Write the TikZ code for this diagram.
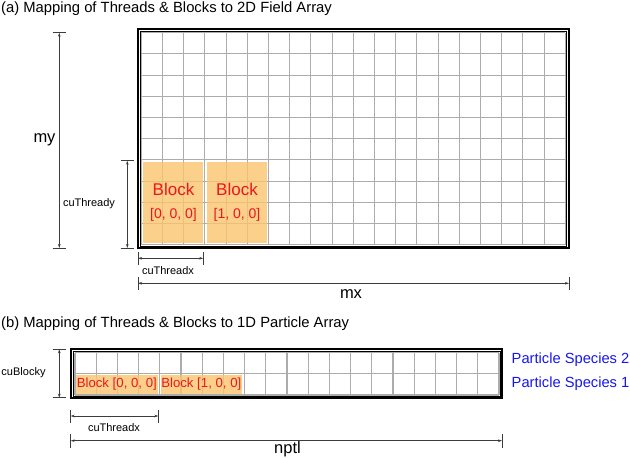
\documentclass[tikz,border=0pt]{standalone}
\usepackage{fontspec}
\setmainfont{Liberation Sans}
\usetikzlibrary{arrows.meta}
\definecolor{blkfill}{RGB}{250,196,110}
\definecolor{gridgray}{RGB}{172,172,172}
\definecolor{blkred}{RGB}{238,22,30}
\definecolor{specblue}{RGB}{22,22,238}
\definecolor{dimgray}{RGB}{60,60,60}
\begin{document}
\begin{tikzpicture}[x=1pt,y=-1pt,
  gridline/.style={draw=gridgray,line width=1.1pt},
  outerframe/.style={draw=black,line width=2pt},
  innerframe/.style={draw=black,line width=0.7pt},
  blockfill/.style={fill=blkfill,fill opacity=0.8,draw=none},
  dimline/.style={draw=dimgray,line width=0.7pt,{Stealth[length=4pt,width=2.6pt]}-{Stealth[length=4pt,width=2.6pt]}},
  dimtick/.style={draw=dimgray,line width=0.7pt},
  titletxt/.style={anchor=west,inner sep=0pt,font=\fontsize{14.8}{17}\selectfont},
  bigtxt/.style={inner sep=0pt,font=\fontsize{16.5}{19}\selectfont},
  smalltxt/.style={inner sep=0pt,font=\fontsize{11}{13}\selectfont},
  blocktxt/.style={inner sep=0pt,text=blkred,font=\fontsize{17}{20}\selectfont},
  idxtxt/.style={inner sep=0pt,text=blkred,font=\fontsize{14}{17}\selectfont},
  blockbtxt/.style={inner sep=0pt,text=blkred,font=\fontsize{13.2}{16}\selectfont},
  spectxt/.style={anchor=west,inner sep=0pt,text=specblue,font=\fontsize{14.7}{17}\selectfont}
]
\useasboundingbox (0,0) rectangle (630,458);

% ---------- (a) ----------
\node[titletxt] (ta) at (1,9) {(a) Mapping of Threads \& Blocks to 2D Field Array};

\foreach \i in {0,...,20}
  \draw[gridline] ({141.3+\i*21.2},32.7) -- ({141.3+\i*21.2},244.7);
\foreach \j in {0,...,10}
  \draw[gridline] (141.3,{32.7+\j*21.2}) -- (565.3,{32.7+\j*21.2});

\fill[blockfill] (143.3,161.7) rectangle (203.3,242.7);
\fill[blockfill] (206.7,161.7) rectangle (267.3,242.7);

\draw[innerframe] (140.4,31.2) rectangle (566.6,246.2);
\draw[outerframe] (138,29) rectangle (569,248);

\node[blocktxt] (b0a) at (173.5,189) {Block};
\node[idxtxt] (b0b) at (173.5,215) {[0, 0, 0]};
\node[blocktxt] (b1a) at (237,189) {Block};
\node[idxtxt] (b1b) at (237,215) {[1, 0, 0]};

% my
\coordinate (myT) at (59.3,32.7);
\coordinate (myB) at (59.3,248);
\draw[dimtick] (52.7,32.7) -- (66,32.7);
\draw[dimtick] (52.7,248) -- (66,248);
\draw[dimline] (myT) -- (myB);
\node[bigtxt] (my) at (44.5,140) {my};

% cuThready
\coordinate (ctyT) at (127.3,160.7);
\coordinate (ctyB) at (127.3,248);
\draw[dimtick] (120.5,160.7) -- (134,160.7);
\draw[dimtick] (120.5,248) -- (134,248);
\draw[dimline] (ctyT) -- (ctyB);
\node[smalltxt] (cty) at (89,204) {cuThready};

% cuThreadx (a)
\coordinate (ctxaL) at (138,258.3);
\coordinate (ctxaR) at (203.3,258.3);
\draw[dimtick] (138,252) -- (138,265);
\draw[dimtick] (203.3,252) -- (203.3,265);
\draw[dimline] (ctxaL) -- (ctxaR);
\node[smalltxt] (ctxa) at (168,270.5) {cuThreadx};

% mx
\coordinate (mxL) at (138,283.3);
\coordinate (mxR) at (569,283.3);
\draw[dimtick] (138,277) -- (138,290);
\draw[dimtick] (569,277) -- (569,290);
\draw[dimline] (mxL) -- (mxR);
\node[bigtxt] (mx) at (351,294) {mx};

% ---------- (b) ----------
\node[titletxt] (tb) at (1,324) {(b) Mapping of Threads \& Blocks to 1D Particle Array};

\foreach \i in {0,...,20}
  \draw[gridline] ({75+\i*21.2},352.7) -- ({75+\i*21.2},395);
\foreach \j in {0,1,2}
  \draw[gridline] (75,{352.7+\j*21.15}) -- (499,{352.7+\j*21.15});

\fill[blockfill] (76.3,375.2) rectangle (157.5,393.5);
\fill[blockfill] (161,375.2) rectangle (241.8,393.5);

\draw[innerframe] (73,351.2) rectangle (499.9,396.2);
\draw[outerframe] (70.7,349.3) rectangle (501.9,397.7);

\node[blockbtxt] (bb0) at (116.8,384.3) {Block [0, 0, 0]};
\node[blockbtxt] (bb1) at (201.3,384.3) {Block [1, 0, 0]};

\node[spectxt] (sp2) at (511.5,359.3) {Particle Species 2};
\node[spectxt] (sp1) at (511.5,383.3) {Particle Species 1};

% cuBlocky
\coordinate (cbyT) at (59.3,349.3);
\coordinate (cbyB) at (59.3,397.7);
\draw[dimtick] (52.7,349.3) -- (66,349.3);
\draw[dimtick] (52.7,397.7) -- (66,397.7);
\draw[dimline] (cbyT) -- (cbyB);
\node[smalltxt] (cby) at (23.5,372.5) {cuBlocky};

% cuThreadx (b)
\coordinate (ctxbL) at (70.7,416);
\coordinate (ctxbR) at (158.3,416);
\draw[dimtick] (70.7,410) -- (70.7,422.5);
\draw[dimtick] (158.3,410) -- (158.3,422.5);
\draw[dimline] (ctxbL) -- (ctxbR);
\node[smalltxt] (ctxb) at (114,427.5) {cuThreadx};

% nptl
\coordinate (nptlL) at (70.7,440.7);
\coordinate (nptlR) at (502,440.7);
\draw[dimtick] (70.7,434) -- (70.7,447.5);
\draw[dimtick] (502,434) -- (502,447.5);
\draw[dimline] (nptlL) -- (nptlR);
\node[bigtxt] (nptl) at (287.5,449.5) {nptl};
\end{tikzpicture}
\end{document}
